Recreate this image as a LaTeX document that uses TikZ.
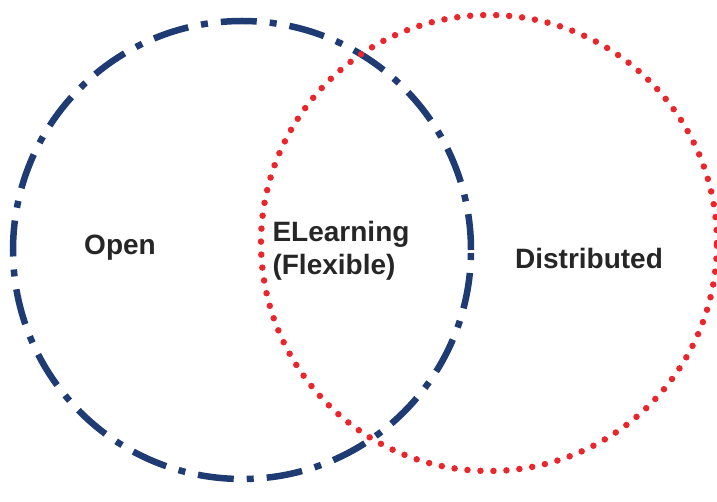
\documentclass[tikz,border=0pt]{standalone}
\usepackage{fontspec}
\setmainfont{Liberation Sans}
\definecolor{navy}{HTML}{1F3B73}
\definecolor{vred}{HTML}{E8262B}
\begin{document}
\begin{tikzpicture}[x=1pt,y=-1pt,
  lbl/.style={font=\fontsize{28}{33}\selectfont\bfseries, align=left, text=black!85},
  open/.style={draw=navy, line width=6.5pt, dash pattern=on 36pt off 13pt on 7pt off 13pt},
  dist/.style={draw=vred, line width=6.5pt, line cap=round, dash pattern=on 0pt off 13pt}]
\useasboundingbox (0,0) rectangle (717,502);
\node[circle, open, minimum size=458pt] (A) at (242,250) {};
\node[circle, dist, minimum size=456pt] (B) at (489,243) {};
\node[lbl] (o) at (120,248) {Open};
\node[lbl] (e) at (341,251) {ELearning\\(Flexible)};
\node[lbl] (d) at (589,258) {Distributed};
\end{tikzpicture}
\end{document}
